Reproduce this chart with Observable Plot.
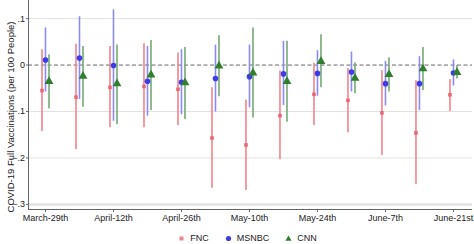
<!DOCTYPE html>
<html><head><meta charset="utf-8">
<script src="https://cdn.jsdelivr.net/npm/d3@7"></script>
<script src="https://cdn.jsdelivr.net/npm/@observablehq/plot@0.6"></script>
<style>
body{margin:0;background:#fff;font-family:"Liberation Sans",Arial,sans-serif;}
#chart svg{display:block;}
#legend{display:flex;justify-content:center;align-items:center;height:14px;margin-top:3px;padding-left:21px;font-size:9px;color:#222;}
#legend .it{display:flex;align-items:center;margin:0 8px;}
#legend svg{margin-right:5px;}
</style></head><body>
<div id="chart"></div>
<div id="legend"></div>
<script>
const weeks = [0,1,2,3,4,5,6,7,8,9,10,11,12];
const tickWeeks = [0,2,4,6,8,10,12];
const tickLabels = ["March-29th","April-12th","April-26th","May-10th","May-24th","June-7th","June-21st"];
const networks = ["FNC","MSNBC","CNN"];
const yTicks = [0.1,0,-0.1,-0.2,-0.3];
const yTitle = "COVID-19 Full Vaccinations (per 100 People)";

const fncEst = [-0.055,-0.069,-0.048,-0.046,-0.052,-0.157,-0.172,-0.109,-0.063,-0.076,-0.103,-0.146,-0.064];
const fncLo  = [-0.143,-0.182,-0.135,-0.135,-0.130,-0.265,-0.270,-0.204,-0.130,-0.146,-0.195,-0.257,-0.100];
const fncHi  = [0.033,0.045,0.040,0.046,0.026,-0.049,-0.075,-0.013,0.004,-0.008,-0.012,-0.034,-0.031];

const msnbcEst = [0.011,0.015,-0.001,-0.035,-0.037,-0.029,-0.025,-0.019,-0.018,-0.015,-0.040,-0.040,-0.017];
const msnbcLo  = [-0.058,-0.074,-0.121,-0.110,-0.107,-0.101,-0.092,-0.087,-0.067,-0.058,-0.088,-0.098,-0.045];
const msnbcHi  = [0.080,0.104,0.119,0.040,0.033,0.043,0.043,0.051,0.031,0.028,0.008,0.018,0.011];

const cnnEst = [-0.035,-0.024,-0.040,-0.021,-0.038,-0.002,-0.017,-0.035,0.008,-0.028,-0.020,-0.008,-0.016];
const cnnLo  = [-0.094,-0.091,-0.128,-0.098,-0.117,-0.068,-0.114,-0.123,-0.049,-0.062,-0.058,-0.055,-0.030];
const cnnHi  = [0.022,0.040,0.043,0.053,0.038,0.063,0.080,0.051,0.065,0.005,0.016,0.038,-0.001];

const series = {
  FNC: {est: fncEst, lo: fncLo, hi: fncHi, line: "#f2838d", dot: "#ea6472", symbol: "square", r: 2, dx: -3.5},
  MSNBC: {est: msnbcEst, lo: msnbcLo, hi: msnbcHi, line: "#8b8bf3", dot: "#3d3de8", symbol: "circle", r: 2.8, dx: 0},
  CNN: {est: cnnEst, lo: cnnLo, hi: cnnHi, line: "#74a974", dot: "#2f7f2f", symbol: "triangle", r: 3.3, dx: 3.5}
};

const rows = networks.map(n => weeks.map((w, i) => ({week: w, network: n, est: series[n].est[i], lo: series[n].lo[i], hi: series[n].hi[i]})));

const xDomain = [-0.5, 12.56];
const yDomain = [-0.311, 0.139];
const fmt = d => d === 0 ? "0" : d3.format(".1f")(d).replace("0.", ".");

const marks = [
  Plot.ruleY([0.1,-0.1,-0.2], {stroke: "#e2e2e2", strokeWidth: 1}),
  Plot.ruleY([-0.3], {stroke: "#e2e2e2", strokeWidth: 2.5}),
  Plot.ruleY([0], {stroke: "#666", strokeDasharray: "4,2.5", strokeWidth: 1}),
  Plot.ruleX([xDomain[0]], {stroke: "#666"}),
  Plot.ruleY([yDomain[0]], {stroke: "#666"})
];
rows.forEach((data, k) => {
  const s = series[networks[k]];
  marks.push(Plot.ruleX(data, {x: "week", y1: "lo", y2: "hi", stroke: s.line, strokeWidth: 1.6, dx: s.dx}));
});
rows.forEach((data, k) => {
  const s = series[networks[k]];
  marks.push(Plot.dot(data, {x: "week", y: "est", fill: s.dot, symbol: s.symbol, r: s.r, dx: s.dx}));
});
marks.push(
  Plot.axisY({ticks: yTicks, tickFormat: fmt, tickSize: 2, tickPadding: 1.5, label: null, stroke: "#666"}),
  Plot.axisX({ticks: tickWeeks, tickFormat: (d) => tickLabels[tickWeeks.indexOf(d)], tickSize: 3, tickPadding: 2, label: null, stroke: "#666"}),
  Plot.text([yTitle], {text: d => d, frameAnchor: "left", textAnchor: "middle", lineAnchor: "middle", rotate: -90, dx: -18, dy: 12, fontSize: 9.5, fill: "#222"})
);

const chart = Plot.plot({
  width: 474, height: 228,
  marginLeft: 28, marginRight: 2, marginTop: 0, marginBottom: 19,
  x: {domain: xDomain},
  y: {domain: yDomain},
  style: {fontFamily: "'Liberation Sans', Arial, sans-serif", fontSize: "9px", color: "#222", background: "#fff"},
  marks
});
document.getElementById("chart").append(chart);

const leg = document.getElementById("legend");
networks.forEach(n => {
  const s = series[n];
  const it = document.createElement("div");
  it.className = "it";
  let shape;
  if (s.symbol === "square") shape = `<rect x="1.5" y="1.5" width="4" height="4" fill="${s.dot}" opacity="0.8"/>`;
  else if (s.symbol === "circle") shape = `<circle cx="3.5" cy="3.5" r="2.6" fill="${s.dot}"/>`;
  else shape = `<path d="M3.5,0.6L6.6,5.8L0.4,5.8Z" fill="${s.dot}"/>`;
  it.innerHTML = `<svg width="7" height="7">${shape}</svg><span>${n}</span>`;
  leg.append(it);
});
</script>
</body></html>
